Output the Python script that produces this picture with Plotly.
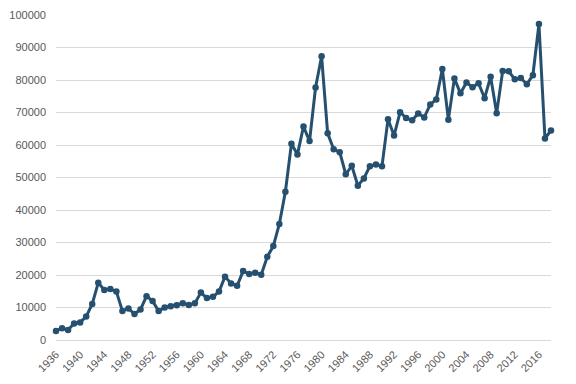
import plotly.graph_objects as go

years = list(range(1936, 2019))
values = [
    2800, 3600, 3100, 5100, 5400, 7200, 11100, 17600, 15400, 15700,  # 1936-1945
    14900, 8900, 9700, 8000, 9400, 13500, 12000, 8900, 10000, 10400,  # 1946-1955
    10700, 11300, 10800, 11300, 14600, 12900, 13300, 14900, 19500, 17400,  # 1956-1965
    16700, 21200, 20300, 20700, 20100, 25600, 28900, 35700, 45600, 60400,  # 1966-1975
    57100, 65700, 61200, 77700, 87300, 63600, 58700, 57800, 51000, 53600,  # 1976-1985
    47500, 49700, 53500, 54000, 53500, 67900, 62900, 70100, 68300, 67600,  # 1986-1995
    69700, 68500, 72500, 74000, 83400, 67800, 80500, 75900, 79200, 77800,  # 1996-2005
    79000, 74400, 81000, 69800, 82800, 82700, 80200, 80600, 78700, 81500,  # 2006-2015
    97200, 62000, 64500,  # 2016-2018
]
x_ticks = list(range(1936, 2017, 4))
y_ticks = list(range(0, 100001, 10000))

line_color = "#26506F"
text_color = "#595959"
grid_color = "#D9D9D9"

fig = go.Figure(
    go.Scatter(
        x=years,
        y=values,
        mode="lines+markers",
        line=dict(color=line_color, width=3),
        marker=dict(color=line_color, size=6.5),
        cliponaxis=False,
        hoverinfo="x+y",
    )
)

fig.update_layout(
    width=576,
    height=384,
    margin=dict(l=56, r=25, t=15, b=44, autoexpand=False),
    paper_bgcolor="white",
    plot_bgcolor="white",
    showlegend=False,
    font=dict(family="Liberation Sans, Arial, sans-serif", size=11, color=text_color),
)
fig.update_xaxes(
    range=[1936, 2018],
    tickmode="array",
    tickvals=x_ticks,
    ticktext=[str(v) for v in x_ticks],
    tickangle=-45,
    showgrid=False,
    zeroline=False,
    showline=False,
    ticks="",
    automargin=False,
    ticklabelstandoff=5,
    tickfont=dict(size=11, color=text_color),
)
fig.update_yaxes(
    range=[0, 100000],
    tickmode="array",
    tickvals=y_ticks,
    ticktext=[str(v) for v in y_ticks],
    showgrid=True,
    gridcolor=grid_color,
    gridwidth=1,
    zeroline=True,
    zerolinecolor=grid_color,
    zerolinewidth=1,
    showline=False,
    ticks="",
    automargin=False,
    ticklabelstandoff=9,
    tickfont=dict(size=11, color=text_color),
)

fig.write_html(
    "out.html",
    config={"displayModeBar": False},
    post_script="document.body.style.margin='0';document.body.style.padding='0';document.body.style.overflow='hidden';",
)
